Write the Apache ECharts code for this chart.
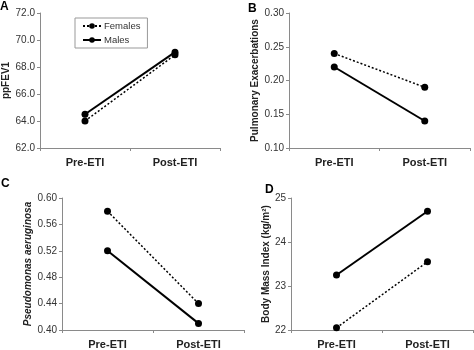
<!DOCTYPE html>
<html>
<head>
<meta charset="utf-8">
<script src="https://cdn.jsdelivr.net/npm/echarts@6/dist/echarts.min.js"></script>
<style>
  html, body { margin: 0; padding: 0; background: #fff; }
  #chart { width: 474px; height: 350px; }
</style>
</head>
<body>
<div id="chart"></div>
<script>
// categories
const periods = ['Pre-ETI', 'Post-ETI']

// A: ppFEV1
const fevFemales = [64.0, 68.9]
const fevMales = [64.5, 69.1]
// B: pulmonary exacerbations
const pexFemales = [0.24, 0.19]
const pexMales = [0.22, 0.14]
// C: Pseudomonas aeruginosa
const paFemales = [0.58, 0.44]
const paMales = [0.52, 0.41]
// D: BMI
const bmiFemales = [22.05, 23.55]
const bmiMales = [23.25, 24.7]

const font = 'Arial, "Liberation Sans", sans-serif'
const axisGray = '#8a8a8a'

// panel positions (px)
const grids = [
  { left: 40, top: 13, width: 180, height: 135 },
  { left: 289, top: 13, width: 181, height: 135 },
  { left: 62, top: 198, width: 182, height: 137 },
  { left: 291, top: 198, width: 182, height: 135 }
]

function xAxisFor (i) {
  return {
    type: 'category',
    gridIndex: i,
    data: periods,
    boundaryGap: true,
    axisLine: { lineStyle: { color: axisGray, width: 1 } },
    axisTick: { show: true, length: 3, lineStyle: { color: axisGray } },
    axisLabel: { color: '#222', fontWeight: 'bold', fontSize: 11, fontFamily: font, margin: 9 },
    splitLine: { show: false }
  }
}

function yAxisFor (i, min, max, step, digits, name, gap, italic) {
  return {
    type: 'value',
    gridIndex: i,
    min: min,
    max: max,
    interval: step,
    name: name,
    nameLocation: 'middle',
    nameGap: gap,
    nameTextStyle: {
      color: '#222', fontWeight: 'bold', fontSize: 10, fontFamily: font,
      fontStyle: italic ? 'italic' : 'normal'
    },
    axisLine: { show: true, lineStyle: { color: axisGray, width: 1 } },
    axisTick: { show: true, length: 3, lineStyle: { color: axisGray } },
    axisLabel: {
      color: '#333', fontSize: 10, fontFamily: font, margin: 5,
      formatter: function (v) { return v.toFixed(digits) }
    },
    splitLine: { show: false }
  }
}

function pair (i, females, males) {
  return [{
    name: 'Females',
    type: 'line',
    xAxisIndex: i,
    yAxisIndex: i,
    data: females,
    symbol: 'circle',
    symbolSize: 7,
    itemStyle: { color: '#000' },
    lineStyle: { color: '#000', width: 1.5, type: [2, 2] },
    emphasis: { disabled: true }
  }, {
    name: 'Males',
    type: 'line',
    xAxisIndex: i,
    yAxisIndex: i,
    data: males,
    symbol: 'circle',
    symbolSize: 7,
    itemStyle: { color: '#000' },
    lineStyle: { color: '#000', width: 2 },
    emphasis: { disabled: true }
  }]
}

function letter (txt, x, y) {
  return {
    type: 'text',
    left: x,
    top: y,
    style: { text: txt, fill: '#000', font: 'bold 12px ' + font }
  }
}

const chart = echarts.init(document.getElementById('chart'))
chart.setOption({
  animation: false,
  backgroundColor: '#fff',
  grid: grids,
  xAxis: [xAxisFor(0), xAxisFor(1), xAxisFor(2), xAxisFor(3)],
  yAxis: [
    yAxisFor(0, 62, 72, 2, 1, 'ppFEV1', 23, false),
    yAxisFor(1, 0.10, 0.30, 0.05, 2, 'Pulmonary Exacerbations', 26, false),
    yAxisFor(2, 0.40, 0.60, 0.04, 2, 'Pseudomonas aeruginosa', 25, true),
    yAxisFor(3, 22, 25, 1, 0, 'Body Mass Index (kg/m²)', 19, false)
  ],
  legend: {
    data: ['Females', 'Males'],
    orient: 'vertical',
    left: 75,
    top: 18,
    padding: [3, 7, 3, 7],
    itemWidth: 18,
    itemHeight: 7,
    itemGap: 4,
    borderColor: '#999',
    borderWidth: 1,
    textStyle: { color: '#333', fontSize: 9.5, fontFamily: font, padding: [0, 0, 0, -2] }
  },
  graphic: [
    letter('A', 0, 1),
    letter('B', 248, 3),
    letter('C', 1, 178),
    letter('D', 265, 184)
  ],
  series: [].concat(
    pair(0, fevFemales, fevMales),
    pair(1, pexFemales, pexMales),
    pair(2, paFemales, paMales),
    pair(3, bmiFemales, bmiMales)
  )
})
</script>
</body>
</html>
